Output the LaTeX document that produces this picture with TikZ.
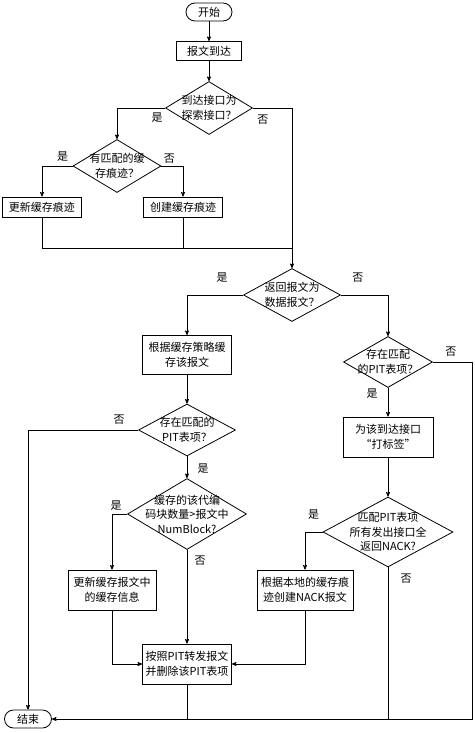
\documentclass[tikz,border=0pt]{standalone}
\usepackage{fontspec}
\setmainfont{Noto Sans CJK SC}
\usetikzlibrary{shapes.geometric}
\usetikzlibrary{positioning}
\usetikzlibrary{arrows}
\tikzset{
    x=1pt, y=1pt,
    every node/.append style={
        font=\fontsize{11}{14.5}\selectfont
    },
    term/.style={
        draw, rectangle, rounded corners=9pt,
        minimum width=46pt, minimum height=18pt,
        inner sep=0pt, line width=0.8pt
    },
    proc/.style={
        draw, rectangle, align=center,
        minimum height=40pt, inner sep=2pt, line width=0.8pt
    },
    dec/.style={
        draw, diamond, inner sep=0pt, line width=0.8pt
    },
    txt/.style={
        align=center, inner sep=0pt
    },
    lbl/.style={
        inner sep=0pt
    },
    flow/.style={
        ->, >=stealth',
        line width=0.7pt
    },
    line/.style={
        line width=0.7pt
    }
}
\begin{document}
\begin{tikzpicture}
    \useasboundingbox (0,0) rectangle (474,-733);

    \node[term] (start) at (209,-12) {开始};
    \node[proc, below of = start, node distance=39pt, minimum width=65pt, minimum height=19pt] (arrive) {报文到达};
    \node[dec, below of = arrive, node distance=57pt, minimum width=87pt, minimum height=53pt,
        label={[txt]center:到达接口为\\探索接口？}] (probe) {};
    \node[dec, below of = probe, node distance=58pt, xshift=-92pt, minimum width=88pt, minimum height=53pt,
        label={[txt]center:有匹配的缓\\存痕迹？}] (trace) {};
    \node[proc, below of = trace, node distance=41pt, xshift=-75pt, minimum width=79pt, minimum height=20pt] (upd) {更新缓存痕迹};
    \node[proc, below of = trace, node distance=41pt, xshift=66pt, minimum width=79pt, minimum height=20pt] (crt) {创建缓存痕迹};
    \node[dec, below of = probe, node distance=187pt, xshift=83pt, minimum width=97pt, minimum height=53pt,
        label={[txt]center:返回报文为\\数据报文？}] (data) {};
    \coordinate[above of = data, node distance=47pt] (merge);
    \node[proc, below of = data, node distance=60pt, xshift=-105pt, minimum width=89pt, minimum height=39pt] (cache) {根据缓存策略缓\\存该报文};
    \node[dec, below of = data, node distance=67pt, xshift=96pt, minimum width=89pt, minimum height=51pt,
        label={[txt]center:存在匹配\\的PIT表项？}] (pitr) {};
    \node[dec, below of = cache, node distance=75pt, minimum width=97pt, minimum height=52pt,
        label={[txt]center:存在匹配的\\PIT表项？}] (pitl) {};
    \node[proc, below of = pitr, node distance=75pt, minimum width=90pt] (tag) {为该到达接口\\“打标签”};
    \node[dec, below of = pitl, node distance=84pt, minimum width=119pt, minimum height=71pt,
        label={[txt]center:缓存的该代编\\码块数量>报文中\\NumBlock?}] (blocks) {};
    \node[dec, below of = tag, node distance=95pt, minimum width=130pt, minimum height=70pt,
        label={[txt]center:匹配PIT表项\\所有发出接口全\\返回NACK?}] (nackq) {};
    \node[proc, below of = blocks, node distance=76pt, xshift=-75pt, minimum width=88pt] (info) {更新缓存报文中\\的缓存信息};
    \node[proc, below of = nackq, node distance=58pt, xshift=-83pt, minimum width=96pt] (nack) {根据本地的缓存痕\\迹创建NACK报文};
    \node[proc, below of = blocks, node distance=150pt, minimum width=89pt] (fwd) {按照PIT转发报文\\并删除该PIT表项};
    \node[term, below of = fwd, node distance=55pt, xshift=-159pt, minimum width=47pt] (end) {结束};
    \coordinate[right of = end, node distance=444pt] (rim);

    \draw[flow] (start) -- (arrive);
    \draw[flow] (arrive) -- (probe);
    \draw[flow] (probe.west) -| node[lbl, pos=0, xshift=-8pt, yshift=-10pt] (y1) {是} (trace.north);
    \draw[flow] (probe.east) -| node[lbl, pos=0, xshift=10pt, yshift=-12pt] (n1) {否} (data.north);
    \draw[flow] (trace.west) -| node[lbl, pos=0, xshift=-10pt, yshift=9pt] (y2) {是} (upd.north);
    \draw[flow] (trace.east) -| node[lbl, pos=0, xshift=8pt, yshift=7pt] (n2) {否} (crt.north);
    \draw[line] (upd.south) |- (merge);
    \draw[line] (crt.south) -- (crt.south |- merge);
    \draw[flow] (data.west) -| node[lbl, pos=0, xshift=-21pt, yshift=17pt] (y3) {是} (cache.north);
    \draw[flow] (data.east) -| node[lbl, pos=0, xshift=17pt, yshift=17pt] (n3) {否} (pitr.north);
    \draw[flow] (cache) -- (pitl);
    \draw[flow] (pitr.east) -| node[lbl, pos=0, xshift=18pt, yshift=10pt] (n4) {否} (rim) -- (end.east);
    \draw[flow] (pitr.south) -- node[lbl, pos=0, xshift=-16pt, yshift=-6pt] (y4) {是} (tag.north);
    \draw[flow] (tag) -- (nackq);
    \draw[flow] (pitl.west) -| node[lbl, pos=0, xshift=-19pt, yshift=10pt] (n5) {否} (end.north);
    \draw[flow] (pitl.south) -- node[lbl, pos=0, xshift=16pt, yshift=-12pt] (y5) {是} (blocks.north);
    \draw[flow] (blocks.west) -| node[lbl, pos=0, xshift=-11pt, yshift=8pt] (y6) {是} (info.north);
    \draw[flow] (blocks.south) -- node[lbl, pos=0, xshift=13pt, yshift=-11pt] (n6) {否} (fwd.north);
    \draw[flow] (info.south) |- (fwd.west);
    \draw[flow] (nackq.west) -| node[lbl, pos=0, xshift=-9pt, yshift=17pt] (y7) {是} (nack.north);
    \draw[line] (nackq.south) -- node[lbl, pos=0, xshift=18pt, yshift=-11pt] (n7) {否} (nackq.south |- end);
    \draw[flow] (nack.south) |- (fwd.east);
    \draw[line] (fwd.south) -- (fwd.south |- end);

\end{tikzpicture}
\end{document}
